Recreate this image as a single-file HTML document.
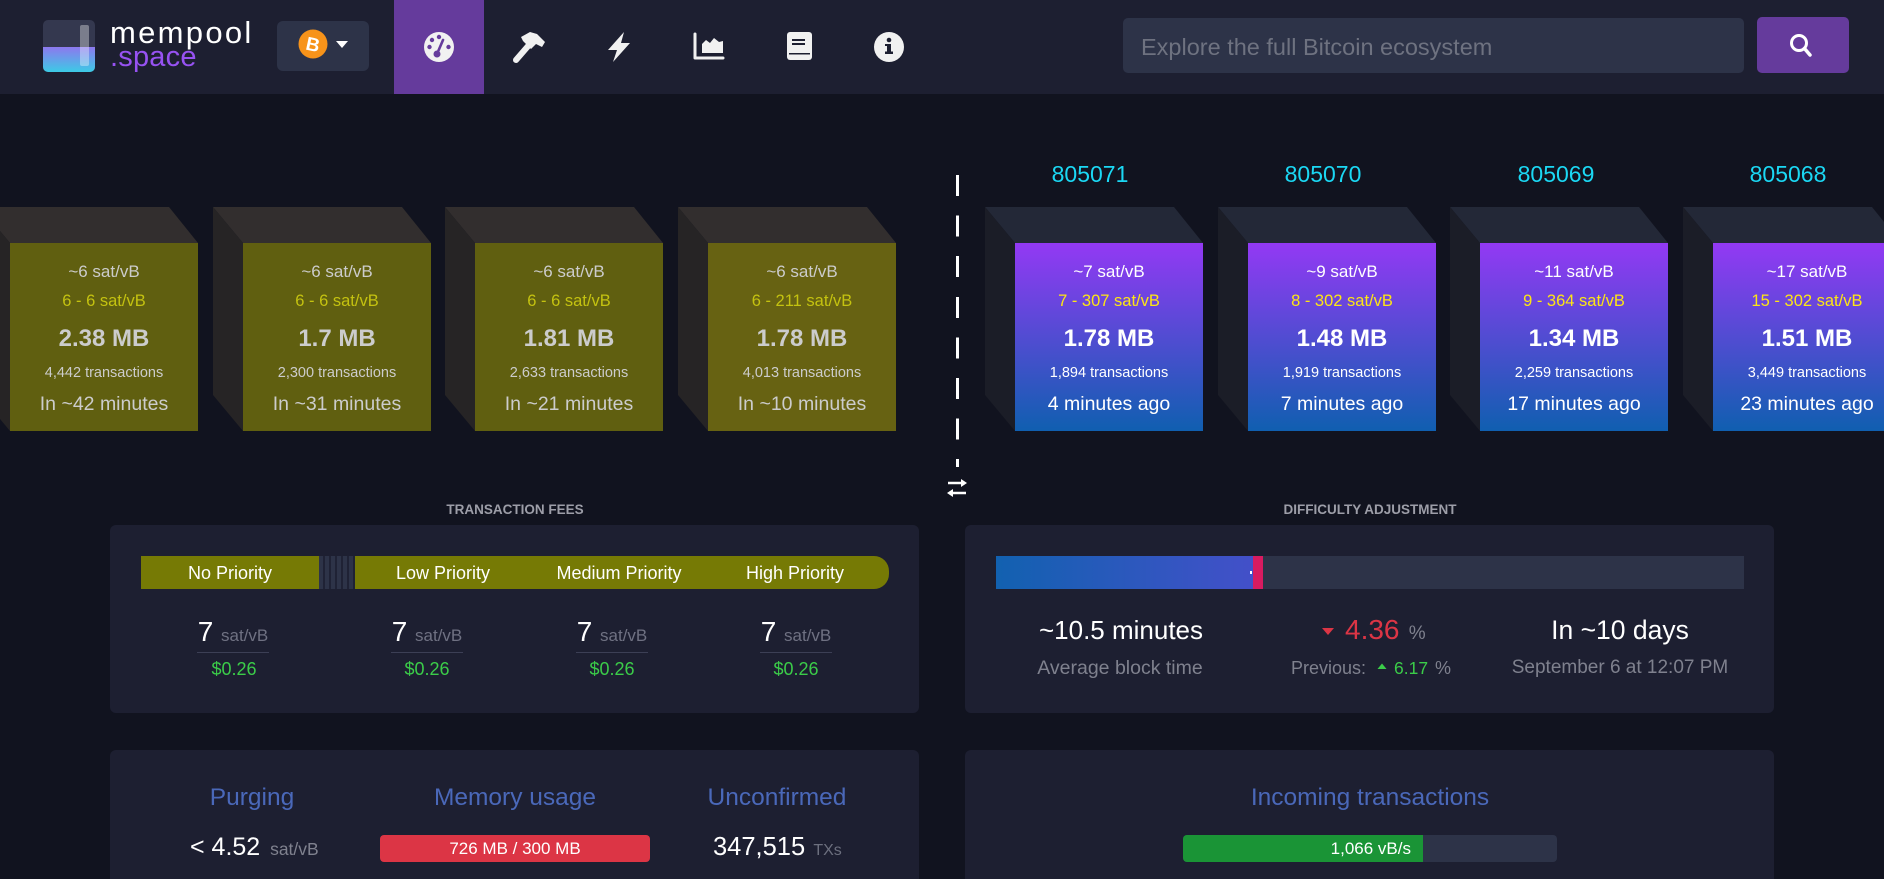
<!DOCTYPE html>
<html><head><meta charset="utf-8">
<style>
*{margin:0;padding:0;box-sizing:border-box}
html,body{width:1884px;height:879px;overflow:hidden;background:#11131f;font-family:"Liberation Sans",sans-serif;color:#fff}
body{position:relative}
.a{position:absolute}
.t{position:absolute;width:400px;text-align:center;white-space:nowrap}
.bf{position:absolute;top:243px;width:188px;height:188px;overflow:hidden}
.mp{background:#605f10;color:#cccccc}
.bc{background:linear-gradient(#9339f4,#105fb0);color:#fff}
.bf div{position:absolute;left:0;width:188px;text-align:center;white-space:nowrap;line-height:24px}
.l1{top:17px;font-size:17px}
.l2{top:46px;font-size:16.5px}
.l3{top:84px;font-size:24px;font-weight:bold}
.l4{top:118px;font-size:14.5px}
.l5{top:149px;font-size:19.5px}
.mp .l2{color:#c4c210}
.bc .l2{color:#fde514}
.num{position:absolute;top:160px;width:200px;text-align:center;font-size:23px;line-height:28px;color:#1bd8f4}
.card{position:absolute;background:#1d1f31;border-radius:6px}
.ttl{position:absolute;width:400px;text-align:center;font-size:13.5px;font-weight:bold;color:#9d9ea8;line-height:18px;top:501px}
.grey{color:#7f818e}
.blue{color:#4a68b9;font-size:24.5px;line-height:30px;top:783px}
</style></head><body>

<!-- header -->
<div class="a" style="left:0;top:0;width:1884px;height:94px;background:#1d1f31"></div>
<div class="a" style="left:394px;top:0;width:90px;height:94px;background:#653b9c"></div>
<div class="a" style="left:277px;top:21px;width:92px;height:50px;background:#2d3348;border-radius:6px"></div>
<div class="a" style="left:1123px;top:18px;width:621px;height:55px;background:#2d3348;border-radius:5px"></div>
<div class="a" style="left:1141px;top:33px;font-size:23.5px;line-height:28px;color:#6e7280;white-space:nowrap">Explore the full Bitcoin ecosystem</div>
<div class="a" style="left:1757px;top:17px;width:92px;height:56px;background:#653b9c;border-radius:5px"></div>
<div class="a" style="left:110px;top:15px;font-size:31px;line-height:36px;letter-spacing:2.3px;color:#fff;white-space:nowrap">mempool</div>
<div class="a" style="left:110px;top:39px;font-size:29px;line-height:36px;letter-spacing:0.2px;color:#9752f2;white-space:nowrap">.space</div>

<svg class="a" style="left:0;top:0" width="1884" height="94" viewBox="0 0 1884 94">
  <defs>
    <linearGradient id="lg" x1="0" y1="0" x2="0" y2="1">
      <stop offset="0" stop-color="#8d78ee"/>
      <stop offset="1" stop-color="#3ccbe6"/>
    </linearGradient>
  </defs>
  <rect x="43" y="20" width="52" height="52" rx="5" fill="#34384f"/>
  <path d="M43,47 H95 V67 a5,5 0 0 1 -5,5 H48 a5,5 0 0 1 -5,-5 Z" fill="url(#lg)"/>
  <rect x="80" y="25" width="9" height="41" rx="2" fill="#ffffff" fill-opacity="0.35"/>
  <circle cx="313" cy="44" r="14.5" fill="#f7931a"/>
  <text x="313" y="51" text-anchor="middle" font-family="Liberation Sans" font-weight="bold" font-size="19" fill="#fff" transform="rotate(12 313 44)">B</text>
  <polygon points="336,41 348,41 342,48" fill="#fff"/>
  <circle cx="439" cy="47" r="15" fill="#f1f1f1"/>
  <circle cx="439" cy="37" r="2.2" fill="#653b9c"/>
  <circle cx="432" cy="40" r="2.2" fill="#653b9c"/>
  <circle cx="429.5" cy="47" r="2.2" fill="#653b9c"/>
  <circle cx="448.5" cy="47" r="2.2" fill="#653b9c"/>
  <line x1="437" y1="54" x2="443" y2="40" stroke="#653b9c" stroke-width="2.6" stroke-linecap="round"/>
  <circle cx="437" cy="54" r="3.5" fill="#653b9c"/>
  <line x1="516" y1="60" x2="529" y2="45" stroke="#f1f1f1" stroke-width="6" stroke-linecap="round"/>
  <polygon points="521,37 530,32 537,34 545,42 542,47 536,44 531,49 523,41" fill="#f1f1f1"/>
  <polygon points="624,32 608,50 617,50 613,62 630,43 621,43" fill="#f1f1f1"/>
  <path d="M695,34 V58 H723" fill="none" stroke="#f1f1f1" stroke-width="3" stroke-linecap="round" stroke-linejoin="round"/>
  <path d="M702,53 V44 L706,40 L710,43 L714,38 L719,42 L723,41 V53 Z" fill="#f1f1f1"/>
  <rect x="787" y="32" width="25" height="28" rx="3" fill="#f1f1f1"/>
  <rect x="792" y="39" width="13" height="2" fill="#1d1f31"/>
  <rect x="792" y="43" width="13" height="2" fill="#1d1f31"/>
  <rect x="789" y="53" width="21" height="1.5" fill="#1d1f31"/>
  <circle cx="889" cy="47" r="15" fill="#f1f1f1"/>
  <circle cx="889" cy="40" r="2.3" fill="#1d1f31"/>
  <rect x="887" y="44" width="4" height="9" fill="#1d1f31"/>
  <rect x="885" y="44" width="4" height="2" fill="#1d1f31"/>
  <rect x="885" y="51.5" width="8" height="2.5" fill="#1d1f31"/>
  <circle cx="1799" cy="43" r="7.5" fill="none" stroke="#fff" stroke-width="3"/>
  <line x1="1804.5" y1="48.5" x2="1810" y2="55" stroke="#fff" stroke-width="3.5" stroke-linecap="round"/>
</svg>

<!-- block 3D faces -->
<svg class="a" style="left:0;top:0" width="1884" height="500" viewBox="0 0 1884 500">
  <g fill="#322e2e">
    <polygon points="-20,207 169,207 198,243 10,243"/>
    <polygon points="213,207 402,207 431,243 243,243"/>
    <polygon points="445,207 634,207 663,243 475,243"/>
    <polygon points="678,207 867,207 896,243 708,243"/>
  </g>
  <g fill="#262425">
    <polygon points="-20,207 10,243 10,431 -20,395"/>
    <polygon points="213,207 243,243 243,431 213,395"/>
    <polygon points="445,207 475,243 475,431 445,395"/>
    <polygon points="678,207 708,243 708,431 678,395"/>
  </g>
  <g fill="#232837">
    <polygon points="985,207 1174,207 1203,243 1015,243"/>
    <polygon points="1218,207 1407,207 1436,243 1248,243"/>
    <polygon points="1450,207 1639,207 1668,243 1480,243"/>
    <polygon points="1683,207 1872,207 1901,243 1713,243"/>
  </g>
  <g fill="#1b1d27">
    <polygon points="985,207 1015,243 1015,431 985,395"/>
    <polygon points="1218,207 1248,243 1248,431 1218,395"/>
    <polygon points="1450,207 1480,243 1480,431 1450,395"/>
    <polygon points="1683,207 1713,243 1713,431 1683,395"/>
  </g>
  <line x1="948" y1="483" x2="965" y2="483" stroke="#fff" stroke-width="2.5"/>
  <polygon points="961,479 967,483 961,487" fill="#fff"/>
  <line x1="949" y1="493" x2="966" y2="493" stroke="#fff" stroke-width="2.5"/>
  <polygon points="953,489 947,493 953,497" fill="#fff"/>
</svg>

<div class="a" style="left:955.5px;top:175px;width:3px;height:292px;background:repeating-linear-gradient(to bottom,#fff 0 21px,transparent 21px 40.6px)"></div>

<!-- mempool blocks -->
<div class="bf mp" style="left:10px"><div class="l1">~6 sat/vB</div><div class="l2">6 - 6 sat/vB</div><div class="l3">2.38 MB</div><div class="l4">4,442 transactions</div><div class="l5">In ~42 minutes</div></div>
<div class="bf mp" style="left:243px"><div class="l1">~6 sat/vB</div><div class="l2">6 - 6 sat/vB</div><div class="l3">1.7 MB</div><div class="l4">2,300 transactions</div><div class="l5">In ~31 minutes</div></div>
<div class="bf mp" style="left:475px"><div class="l1">~6 sat/vB</div><div class="l2">6 - 6 sat/vB</div><div class="l3">1.81 MB</div><div class="l4">2,633 transactions</div><div class="l5">In ~21 minutes</div></div>
<div class="bf mp" style="left:708px;background:#676212"><div class="l1">~6 sat/vB</div><div class="l2">6 - 211 sat/vB</div><div class="l3">1.78 MB</div><div class="l4">4,013 transactions</div><div class="l5">In ~10 minutes</div></div>

<!-- blockchain blocks -->
<div class="num" style="left:990px">805071</div>
<div class="num" style="left:1223px">805070</div>
<div class="num" style="left:1456px">805069</div>
<div class="num" style="left:1688px">805068</div>
<div class="bf bc" style="left:1015px"><div class="l1">~7 sat/vB</div><div class="l2">7 - 307 sat/vB</div><div class="l3">1.78 MB</div><div class="l4">1,894 transactions</div><div class="l5">4 minutes ago</div></div>
<div class="bf bc" style="left:1248px"><div class="l1">~9 sat/vB</div><div class="l2">8 - 302 sat/vB</div><div class="l3">1.48 MB</div><div class="l4">1,919 transactions</div><div class="l5">7 minutes ago</div></div>
<div class="bf bc" style="left:1480px"><div class="l1">~11 sat/vB</div><div class="l2">9 - 364 sat/vB</div><div class="l3">1.34 MB</div><div class="l4">2,259 transactions</div><div class="l5">17 minutes ago</div></div>
<div class="bf bc" style="left:1713px;width:171px"><div class="l1">~17 sat/vB</div><div class="l2">15 - 302 sat/vB</div><div class="l3">1.51 MB</div><div class="l4">3,449 transactions</div><div class="l5">23 minutes ago</div></div>

<!-- Transaction fees -->
<div class="ttl" style="left:315px">TRANSACTION FEES</div>
<div class="card" style="left:110px;top:525px;width:809px;height:188px"></div>
<div class="a" style="left:141px;top:556px;width:178px;height:33px;background:#767a05"></div>
<div class="a" style="left:319px;top:556px;width:36px;height:33px;background:repeating-linear-gradient(90deg,#2d3348 0 4px,#1f2235 4px 6px)"></div>
<div class="a" style="left:355px;top:556px;width:534px;height:33px;background:#767a05;border-radius:0 15px 15px 0"></div>
<div class="t" style="left:30px;top:561px;font-size:18px;line-height:24px">No Priority</div>
<div class="t" style="left:243px;top:561px;font-size:18px;line-height:24px">Low Priority</div>
<div class="t" style="left:419px;top:561px;font-size:18px;line-height:24px">Medium Priority</div>
<div class="t" style="left:595px;top:561px;font-size:18px;line-height:24px">High Priority</div>

<div class="t" style="left:33px;top:615px;font-size:28px;line-height:34px">7<span style="font-size:17px;margin-left:3px;color:#6f7182"> sat/vB</span></div>
<div class="t" style="left:227px;top:615px;font-size:28px;line-height:34px">7<span style="font-size:17px;margin-left:3px;color:#6f7182"> sat/vB</span></div>
<div class="t" style="left:412px;top:615px;font-size:28px;line-height:34px">7<span style="font-size:17px;margin-left:3px;color:#6f7182"> sat/vB</span></div>
<div class="t" style="left:596px;top:615px;font-size:28px;line-height:34px">7<span style="font-size:17px;margin-left:3px;color:#6f7182"> sat/vB</span></div>
<div class="a" style="left:197px;top:652px;width:72px;height:1px;background:#3c3f55"></div>
<div class="a" style="left:391px;top:652px;width:72px;height:1px;background:#3c3f55"></div>
<div class="a" style="left:576px;top:652px;width:72px;height:1px;background:#3c3f55"></div>
<div class="a" style="left:760px;top:652px;width:72px;height:1px;background:#3c3f55"></div>
<div class="t" style="left:34px;top:658px;font-size:18px;line-height:22px;color:#3bcc49">$0.26</div>
<div class="t" style="left:227px;top:658px;font-size:18px;line-height:22px;color:#3bcc49">$0.26</div>
<div class="t" style="left:412px;top:658px;font-size:18px;line-height:22px;color:#3bcc49">$0.26</div>
<div class="t" style="left:596px;top:658px;font-size:18px;line-height:22px;color:#3bcc49">$0.26</div>

<!-- Difficulty -->
<div class="ttl" style="left:1170px">DIFFICULTY ADJUSTMENT</div>
<div class="card" style="left:965px;top:525px;width:809px;height:188px"></div>
<div class="a" style="left:996px;top:556px;width:748px;height:33px;background:#2d3348"></div>
<div class="a" style="left:996px;top:556px;width:257px;height:33px;background:linear-gradient(90deg,#1261b0,#4350c9)"></div>
<div class="a" style="left:1253px;top:556px;width:10px;height:33px;background:#d81b60"></div>
<div class="a" style="left:1250px;top:571px;width:2px;height:3px;background:#fff"></div>
<div class="t" style="left:921px;top:615px;font-size:26px;line-height:30px">~10.5 minutes</div>
<div class="t grey" style="left:920px;top:656px;font-size:19.5px;line-height:24px">Average block time</div>
<svg class="a" style="left:1300px;top:620px" width="100" height="60" viewBox="1300 620 100 60">
  <polygon points="1322,628 1334,628 1328,635" fill="#dc3545"/>
  <polygon points="1377.5,669 1386.5,669 1382,663.5" fill="#3bcc49"/>
</svg>
<div class="a" style="left:1345px;top:615px;line-height:30px;white-space:nowrap"><span style="font-size:28px;color:#dc3545">4.36</span><span class="grey" style="font-size:19px;margin-left:4px"> %</span></div>
<div class="a grey" style="left:1291px;top:656px;font-size:18px;line-height:24px;white-space:nowrap">Previous:</div>
<div class="a" style="left:1394px;top:656px;font-size:17.5px;line-height:24px;color:#3bcc49;white-space:nowrap">6.17</div>
<div class="a grey" style="left:1435px;top:656px;font-size:18px;line-height:24px">%</div>
<div class="t" style="left:1420px;top:615px;font-size:26.5px;line-height:30px">In ~10 days</div>
<div class="t grey" style="left:1420px;top:656px;font-size:19px;line-height:24px">September 6 at 12:07 PM</div>

<!-- bottom cards -->
<div class="card" style="left:110px;top:750px;width:809px;height:129px;border-radius:6px 6px 0 0"></div>
<div class="card" style="left:965px;top:750px;width:809px;height:129px;border-radius:6px 6px 0 0"></div>
<div class="t blue" style="left:52px">Purging</div>
<div class="t blue" style="left:315px">Memory usage</div>
<div class="t blue" style="left:577px">Unconfirmed</div>
<div class="a" style="left:190px;top:832px;font-size:25px;line-height:30px;white-space:nowrap">&lt; 4.52<span class="grey" style="font-size:17.5px;margin-left:5px"> sat/vB</span></div>
<div class="a" style="left:380px;top:835px;width:270px;height:27px;background:#dc3545;border-radius:4px;text-align:center;font-size:17px;line-height:27px;white-space:nowrap">726 MB / 300 MB</div>
<div class="a" style="left:713px;top:832px;font-size:25.5px;line-height:30px;white-space:nowrap">347,515<span style="font-size:16px;margin-left:4px;color:#6c6f7e"> TXs</span></div>

<div class="t blue" style="left:1170px">Incoming transactions</div>
<div class="a" style="left:1183px;top:835px;width:374px;height:27px;background:#2d3348;border-radius:4px"></div>
<div class="a" style="left:1183px;top:835px;width:240px;height:27px;background:#1a9436;border-radius:4px 0 0 4px;text-align:right;padding-right:12px;font-size:17px;line-height:27px;white-space:nowrap">1,066 vB/s</div>

</body></html>
